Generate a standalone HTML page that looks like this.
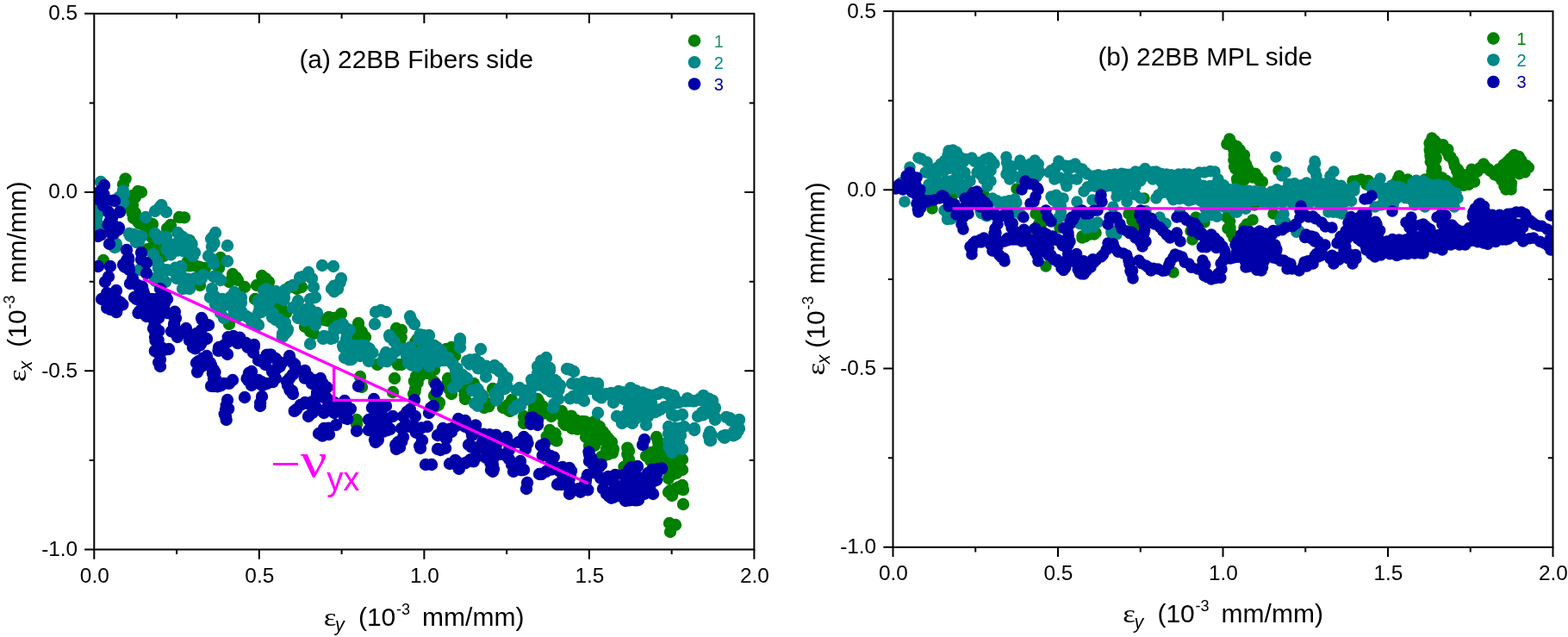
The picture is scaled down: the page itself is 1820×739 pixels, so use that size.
<!DOCTYPE html>
<html><head><meta charset="utf-8"><title>22BB strain plots</title>
<style>
html,body{margin:0;padding:0;background:#fff;}
body{width:1820px;height:739px;overflow:hidden;}
svg{display:block;}
text{font-family:"Liberation Sans",Arial,sans-serif;fill:#000;}
.tk{font-size:24.4px;}
.ttl{font-size:29.8px;}
.lg{font-size:20px;}
.al{font-size:30px;}
.eps{font-family:"Liberation Serif","DejaVu Serif",serif;font-size:30px;}
.sub{font-size:21.5px;font-style:italic;}
.sup{font-size:18px;}
.nu{font-family:"Liberation Serif","DejaVu Serif",serif;font-size:56px;fill:#ff00ff;}
.nus{font-size:38.3px;fill:#ff00ff;}
</style></head><body>
<svg width="1820" height="739" viewBox="0 0 1820 739">
<rect width="1820" height="739" fill="#fff"/>
<defs>
<clipPath id="cl"><rect x="109.30" y="15.80" width="766.10" height="621.70"/></clipPath>
<clipPath id="cr"><rect x="1036.50" y="13.10" width="766.00" height="621.75"/></clipPath>
</defs>
<g clip-path="url(#cl)">
<path d="M145.6 207.4h0M143 214h0M160 222h0M164 223h0M154 227h0M151.7 229.5h0M151 235h0M152.2 237.1h0M152 243h0M153.7 247.4h0M155 253h0M160 257h0M162.1 259.5h0M168 262h0M170.5 260.7h0M177 260h0M156.8 228.8h0M151.6 238.7h0M156.2 247h0M161.7 259.2h0M163.2 256.9h0M174.5 259.2h0M174 269h0M176 275h0M208 252h0M214 252.4h0M198 261h0M194 265h0M174 291h0M177.1 288.7h0M184 289h0M187.8 292.7h0M190 297h0M171.1 289.3h0M178.1 285h0M180.8 287.4h0M220 279h0M218 303h0M222.1 308.1h0M228 309h0M231.3 309.6h0M238 311h0M219.5 308.3h0M256 299h0M256.7 304.2h0M254 311h0M270 318h0M273.9 321.9h0M276 325h0M266 327h0M284 333h0M304 320h0M308.4 323.3h0M312 327h0M298 331h0M336 333h0M344.5 335h0M350 333h0M120 302h0M232 331h0M266 376h0M296 347h0M320 353h0M326 354.7h0M329.6 361.8h0M332 363h0M328 345h0M354 379h0M360 384.4h0M364 387h0M376 371h0M380.7 372.1h0M388 369h0M392 368.5h0M396 364h0M381.7 367.9h0M385.6 372.2h0M394.4 366.7h0M416 375h0M416.4 380h0M420 385h0M412 391h0M419.8 389.7h0M424 391h0M418 437h0M420 449h0M458 439h0M456 455h0M414 487h0M438 423h0M460 381h0M462 423h0M466 383h0M465.7 391.5h0M464 397h0M488 391h0M484.4 393.6h0M482 397h0M504 401h0M524 403h0M518 405h0M525 407.1h0M528 413h0M522 404.7h0M466 423h0M504 429h0M496.3 433.1h0M490 433h0M487 436.9h0M484 441h0M484.7 443.9h0M482 451h0M480 457h0M492.1 430.5h0M483.1 436.3h0M480.9 442.3h0M481.6 454.1h0M520 439h0M504 443h0M518 447h0M521 451h0M524 457h0M504 459h0M507 465.1h0M510 467h0M506 471h0M508.7 469.8h0M550 445h0M538 451h0M539.6 458.3h0M540 463h0M560 459h0M562 465h0M568 469h0M562 473h0M567.2 471.4h0M565.3 471.2h0M572 451h0M594 464h0M589.7 469.8h0M584 473h0M589.8 475.5h0M592 477h0M624 463h0M620.7 467.7h0M620 471h0M623.8 474.2h0M628 475h0M625.1 465.3h0M629.8 471.3h0M608 483h0M652 477h0M646.3 478.9h0M640 483h0M656 485h0M661.8 486h0M668.5 487.4h0M676 489h0M683.6 490.9h0M690 489h0M653.6 483.9h0M663.1 482.6h0M679.3 489.3h0M414 492h0M608 491h0M638 499h0M639.6 503h0M640 509h0M656 493h0M660.8 494h0M664 497h0M670.2 497.9h0M676 495h0M682.5 493.9h0M688 495h0M684.1 500.7h0M680 507h0M684 511.1h0M684 517h0M654.4 490.8h0M672.5 495.7h0M684.5 495.8h0M685.4 496.7h0M687.1 502.6h0M700 501h0M702.7 504.7h0M704 511h0M708.9 515.8h0M712 521h0M709.2 524.5h0M706 527h0M701.9 527.7h0M698 530h0M700.6 504.5h0M700.5 503.4h0M705.9 508.7h0M711 525.4h0M709.6 521.7h0M708.3 524.6h0M699.3 529.9h0M730 523h0M728.3 526.8h0M730 533h0M730 538.7h0M724.5 541.6h0M724 547h0M728.3 519.7h0M762 507h0M764.1 512.9h0M764 519h0M750 529h0M755.3 532.9h0M758 535h0M766.8 531.4h0M772 531h0M779.6 530.8h0M784 535h0M787.2 539.4h0M788 543h0M783 546h0M778 545h0M777.3 549.6h0M776 555h0M763.6 532.4h0M776.8 533.1h0M782.2 538.7h0M785.3 544h0M785.2 548.9h0M780.1 548.1h0M792 563h0M789.5 567h0M784 567h0M778.7 568.7h0M776 571h0M780 575h0M793 568.1h0M787.6 565.1h0M793 585h0M777 607h0M784 609h0M778 617h0M694 511h0M690 517h0M710 513h0M704 521h0M696 495h0M682 501h0M768 527h0M764 537h0M776 537h0M784 527h0M792 533h0M792 545h0M756 525h0M780 551h0M644.6 503h0M634.7 506.3h0M646.2 511.3h0M755.2 534.4h0M765.1 536h0M775 542.6h0M629.7 479.9h0M619.8 476.6h0M182.4 286.6h0M185.2 298h0M176.7 261h0M156.8 246.8h0M154 238.3h0M222.2 303.6h0M233.5 312.2h0" stroke="#008000" stroke-width="14.4" stroke-linecap="round" fill="none"/>
<path d="M117 211h0M144 225h0M138 229h0M140.4 232.7h0M143 235h0M142.9 221.4h0M140.1 237.5h0M112 243h0M109.9 247.8h0M112 253h0M111 256.3h0M113 263h0M112.3 240.3h0M106.6 250.5h0M108.6 254.1h0M187.4 238h0M185.3 240.5h0M180 245h0M193 246h0M169 252h0M150 271h0M155.1 271.9h0M161 274h0M161.2 279.5h0M158 281h0M151.3 273.7h0M151.5 272.2h0M164.3 274.1h0M157.2 277.7h0M135 283h0M133 287h0M180 271h0M184 277h0M188.6 276.5h0M193 275h0M187.3 274.6h0M208 272h0M212 275h0M215.5 277.6h0M220 281h0M206.3 270h0M212.7 277.7h0M217.9 278.4h0M222.6 282.9h0M204 283h0M197.9 287.6h0M196 289h0M200 293h0M206.5 290.5h0M212 291h0M217.9 291.3h0M226 293h0M224 297h0M207 285.9h0M193.3 289.3h0M198.3 295.5h0M216.4 291.6h0M223.5 292.3h0M250 270h0M247 275h0M248.6 282.1h0M246 286h0M245.1 277.1h0M264 285h0M242 297h0M246.2 300.8h0M248 306h0M264 303h0M178 295h0M179.8 302.4h0M184 307h0M189.1 312.6h0M190 315h0M186.3 320.4h0M180 323h0M187.1 323.8h0M192 327h0M182.3 302.8h0M183.8 310.9h0M194.1 313.3h0M180.5 325.9h0M188.1 327.4h0M162 313h0M210 309h0M207.5 311.9h0M202 315h0M208.7 320.3h0M214 323h0M218.2 323.7h0M226 323h0M231.8 324.2h0M234 323h0M209.3 315.6h0M203.4 310.8h0M205.1 322.9h0M220.1 325.7h0M236.1 319h0M212 335h0M216.7 334.3h0M220 335h0M248 321h0M252.2 321.4h0M256 325h0M246 335h0M272 339h0M358 316h0M350.9 321.1h0M348 322h0M362 323h0M340 331h0M364 333h0M374 308h0M387 309h0M396 323h0M394.7 327.6h0M392 332h0M390.4 333.2h0M385 335h0M392 335.1h0M387.8 331.6h0M387.9 338.2h0M306 337h0M312.4 337.3h0M320 338h0M325.4 340.3h0M330 339h0M309 335.3h0M322.7 341.3h0M330.9 336.3h0M244 345h0M249.1 343.8h0M258.3 347h0M267.6 344.5h0M271.7 344.7h0M280 345h0M250 353h0M255 352.9h0M260 349h0M263.6 353.3h0M270 355h0M276 354.4h0M280 351h0M258.6 351.9h0M271.3 358.8h0M278.4 355.4h0M256 363h0M260 369h0M272 363h0M275.2 364.1h0M280 361h0M284.7 366.1h0M286 367h0M288 368.2h0M292 373h0M294.2 375h0M300 377h0M275.6 367.4h0M295.9 372.4h0M300 363h0M303.4 362h0M308 359h0M310.7 359.9h0M316 363h0M316.9 365.5h0M320 371h0M325.7 374.3h0M328 377h0M330.2 379h0M334 382h0M333.2 384.5h0M328 387h0M301.4 359.4h0M303.9 359.7h0M316.1 368.1h0M323.6 370.4h0M330.3 374.5h0M331 374.7h0M330.9 379.9h0M331.3 386.6h0M327.9 390.7h0M300 349h0M305.7 347.7h0M310 349h0M312.9 346.2h0M320 345h0M325.8 343.6h0M330 345h0M301.2 352.9h0M312.6 351h0M327.8 346.9h0M329.4 348h0M340 357h0M345 352.2h0M346 349h0M356 359h0M351.3 363.4h0M346 369h0M352.6 369.6h0M360 367h0M366.2 364.4h0M368 363h0M365.7 371h0M366 377h0M360.3 359.2h0M352.7 360.4h0M354 371.8h0M363.3 368.8h0M360 347h0M366 345h0M360 399h0M376 390h0M378.4 390.5h0M384 393h0M386.1 388.9h0M388 381h0M391.3 378.5h0M398 376h0M403.3 381.6h0M406 383h0M402.7 386.4h0M402 393h0M401.9 399.1h0M398 401h0M401.9 401h0M406 405h0M412 401h0M419.9 400.5h0M424 401h0M428.8 404.5h0M430 407h0M425.4 408.5h0M418 413h0M375 392.9h0M386.7 392.1h0M393.4 380.5h0M402.3 381.5h0M404.1 384h0M398.7 402.8h0M404.2 402.1h0M415.7 401.5h0M420.2 404.5h0M430.3 407.6h0M432.3 409.4h0M422.1 409.8h0M416.3 411h0M400 415h0M405 417.2h0M408 417h0M428 419h0M436 362h0M442.1 360h0M448 362h0M435 376h0M452 389h0M448 409h0M446 413.5h0M444 419h0M476 367h0M477.5 371.5h0M481 376h0M498 389h0M491.2 389h0M486 393h0M487.6 394.5h0M492 399h0M497.9 401.8h0M500 403h0M507.7 403.5h0M512 407h0M487.5 388.2h0M488.5 390.4h0M501.7 401.6h0M500.9 400.1h0M468 405h0M472.4 409.2h0M478 411h0M482.7 412.6h0M488 417h0M494.1 417h0M498 421h0M505.4 417.9h0M510 417h0M515.6 418.1h0M520 415h0M480.6 411h0M480.2 410.3h0M498.5 424.8h0M508.6 418h0M508.2 419.3h0M484 425h0M477.7 423.5h0M474 421h0M534 393h0M533.9 396.4h0M534 403h0M558 405h0M542 419h0M549.9 418.4h0M554 420h0M556.5 420.7h0M562 425h0M568.6 426.1h0M574 424h0M578.2 427.1h0M580 431h0M582 431.9h0M586 437h0M585.6 441.3h0M584 445h0M586 451h0M579.3 454.6h0M574 457h0M578 461h0M545.7 417.5h0M552 416.9h0M556.7 423.3h0M564.4 424.8h0M575.2 427.5h0M584.9 439.9h0M588.8 438.7h0M588.2 447.7h0M579.2 451.2h0M576.3 458.8h0M576 464.4h0M526 423h0M528.9 429.5h0M530 433h0M536.9 435h0M542 439h0M537.2 439.7h0M532 441h0M530.3 445.6h0M526 450h0M523.2 419.6h0M530.7 427.8h0M530.3 437h0M539.5 437.6h0M535.1 438.9h0M564 437h0M548 453h0M555.1 454.9h0M558 457h0M556 463.4h0M551 468h0M554.5 451.3h0M558.9 460.6h0M558.4 461.9h0M554.4 470.7h0M634 415h0M628.3 418.4h0M624 425h0M628.9 424h0M638 427h0M634.2 429.6h0M629.5 432h0M624 433h0M626.1 436.4h0M632 439h0M626.7 442.1h0M624.1 444.1h0M618 444h0M621.1 447.1h0M628 447h0M635.2 447h0M636.9 441.7h0M644 441h0M645.3 442h0M650 447h0M648.5 452.4h0M644 455h0M639.6 454.4h0M634 451h0M630.5 420h0M627.5 427h0M637.9 430.1h0M627.6 436h0M623.9 443.8h0M617 440.6h0M622.8 445.1h0M638.1 447h0M641.8 442.2h0M645.3 452.5h0M642.5 453.4h0M632.9 447.7h0M648 463h0M643.3 468.6h0M642 473h0M603 450h0M607.7 454.8h0M616 457h0M612.9 462.3h0M608 465h0M604 471h0M600.6 472.4h0M596 475h0M599.6 452.6h0M609.6 453.1h0M615.6 461.3h0M610.2 463h0M600.1 470.2h0M658 428h0M661.3 428.7h0M666 431h0M664 445h0M669.5 445.5h0M678 443h0M684 444.7h0M687.2 444.1h0M694 445h0M691.2 448.3h0M686 451h0M678.4 452.8h0M674 455h0M671.2 456.3h0M665 460h0M670.1 461.6h0M678 465h0M679.7 445.5h0M681.3 444.3h0M688.9 448.2h0M693.8 447.7h0M690.1 450.6h0M675.3 458.6h0M672.1 459.5h0M661.7 462.4h0M694 459h0M699.6 457.8h0M704 457h0M709.4 456h0M718 454h0M722.9 455.1h0M730.5 453.7h0M734 454h0M740.3 456.4h0M745.7 455.5h0M752 458h0M758.3 458.7h0M763.9 456.9h0M768 455h0M776.6 457.8h0M782 459h0M698.1 461.3h0M700.4 459h0M719.9 456.6h0M732 450.1h0M738 453.1h0M741.2 455.8h0M749.3 457.2h0M773.4 456.2h0M724 463h0M729.4 464.3h0M736.1 464.4h0M740 465h0M744.9 467.6h0M749.4 467.1h0M756 467h0M724.2 460.3h0M739 465.5h0M743.3 465.3h0M743.9 464.6h0M750 471.1h0M712 467h0M730 473h0M737.1 472.8h0M744 475h0M750.7 474.5h0M753.4 473.4h0M760 475h0M766.6 475h0M771.3 472.2h0M776 471h0M782.3 467.8h0M788 467h0M796 465.4h0M800 465h0M805.9 465.4h0M812.1 462.9h0M816 462h0M819.1 464.7h0M824 467h0M731.6 470.2h0M741.9 477.1h0M751.6 476.8h0M760.1 478.1h0M763.2 476.7h0M779.8 469.2h0M784.3 464h0M797.9 462.1h0M804.4 465.3h0M814.3 464.5h0M816.5 458.9h0M822.5 462.4h0M826.9 464.7h0M694 479h0M716 483h0M723.2 484.4h0M729.7 485.6h0M734 485h0M741.5 483h0M746.8 483.8h0M752 483h0M725.9 482h0M730 488.4h0M737.2 486.2h0M738 483.2h0M780 481h0M783.8 482.5h0M792 481h0M810 483h0M815.9 481.3h0M822 479h0M722 491h0M734 491h0M750 493h0M776 495h0M782.1 496.8h0M788 497h0M784.5 501.4h0M782 507h0M781.4 511.3h0M780 517h0M788 519.8h0M792 521h0M779.7 499.2h0M776.5 518.4h0M787.9 520.2h0M780 525h0M806 499h0M824 501h0M822.6 505.2h0M824 511h0M817 462h0M823.6 465.9h0M826 467h0M830 473h0M829.1 475.3h0M828 481h0M830 487h0M829.7 483.6h0M820 477h0M815 478.6h0M810 483h0M806 497h0M843 484h0M848.1 487.6h0M856 490h0M858 497h0M856.5 499.9h0M854 504h0M851.2 505.3h0M842 504.9h0M839 506h0M847.2 485.2h0M858 486.9h0M852.8 499.9h0M851.8 501.2h0M841 507.9h0M824 501h0M825.6 504.3h0M825 511h0M476 403h0M490 407h0M482 415h0M504 413h0M494 411h0M514 413h0M472 413h0M790 505h0M776 503h0M788 513h0M784 521h0M794 495h0M776 511h0M452.6 391.1h0M457.6 396h0M454.3 414.2h0M449.3 419.2h0M459.2 407.6h0M545.1 422.5h0M555 427.4h0M114.2 246.8h0M114.2 261h0M151.1 272.4h0M162.5 275.2h0M134.1 286.6h0M142.6 226.9h0" stroke="#008787" stroke-width="14.4" stroke-linecap="round" fill="none"/>
<path d="M121 215h0M117.9 220h0M115 223h0M117.7 225.2h0M120 229h0M114 231h0M115 224.1h0M120.5 225.5h0M133 233h0M126 246h0M139 246h0M130 253h0M130.1 258.8h0M128 261h0M132.8 263h0M138 264h0M135 267.6h0M132 271h0M126.8 258.1h0M127.9 269.4h0M114 274h0M127 283h0M147 290h0M164 293h0M149 299h0M147.5 301.4h0M143 307h0M144.8 309.7h0M150 313h0M149.2 301.6h0M149.2 309.3h0M170 305h0M164 301h0M170 317h0M154 323h0M155.4 328.7h0M160 331h0M165.1 332.8h0M166 337h0M151 329h0M161.8 334.2h0M167 340h0M114 309h0M128 309h0M126 321h0M122 327h0M135 337h0M124 340h0M186 335h0M118 347h0M125 343.9h0M130 345h0M135.2 347.7h0M140 351h0M135.9 353.8h0M136 358h0M132.5 358.6h0M128 359h0M124.1 357.1h0M124 351h0M129.7 347.6h0M142.3 353.4h0M135.1 362.1h0M127.6 352.4h0M156 345h0M160.7 345.1h0M166 349h0M165.9 355.6h0M162 361h0M167.3 362.2h0M170 367h0M176.6 363.1h0M180 363h0M186.6 358.8h0M190 355h0M191.3 351.2h0M194 347h0M189.9 346h0M180.4 347.1h0M176 347h0M158.2 346.8h0M161.6 348.1h0M166.2 345.9h0M160.5 363.1h0M171.3 362.6h0M172.3 363.8h0M181.4 359.9h0M188.3 356h0M191.8 342.6h0M174.5 349.1h0M184 369h0M179.4 373.1h0M178 381h0M180.1 384.9h0M180 391h0M180.5 395.2h0M184 403h0M191.5 405.6h0M196 405h0M179.5 376.2h0M179.9 383.8h0M184.4 383.9h0M183.6 394.5h0M187.3 403h0M188.6 405.6h0M184 403h0M182.8 409h0M186 417h0M184.2 420.6h0M186 425h0M187.1 403.4h0M179.8 407.1h0M194 363h0M200.7 365.5h0M204 369h0M202.2 375.1h0M202 377h0M202.5 385h0M206 391h0M202.9 361.8h0M199 384.5h0M216 381h0M219.3 389.4h0M220 395h0M224.4 392.7h0M228 387h0M233.8 382.9h0M238 377h0M234.8 370.9h0M234 369h0M214.3 383.1h0M242.1 377.1h0M224 403h0M228 403h0M232.2 400.4h0M234.1 397.4h0M240 393h0M226.7 404.4h0M231.9 395.9h0M231.5 399.7h0M254 403h0M260.2 400.5h0M264 397h0M268.1 391.6h0M271 390h0M273.9 392.4h0M280 397h0M285.1 397.6h0M288 400h0M295 400h0M294.8 402.4h0M294 409h0M253.5 406.8h0M264.7 391.3h0M274.2 392.9h0M278.3 391.8h0M276 398.1h0M287.7 402.9h0M292.4 401h0M264 411h0M240 413h0M236 415.4h0M228 421h0M230.4 425h0M230 429h0M230.8 418.9h0M233.9 425.1h0M229.1 431.6h0M244 421h0M245.3 424.2h0M248 429h0M249.5 431.8h0M248 439h0M249.1 445h0M248 448h0M252.3 448.4h0M260 445h0M265.9 444.8h0M270 441h0M241.7 423.4h0M246.8 433.1h0M251.3 441.5h0M251.9 443.8h0M245.1 447.8h0M256.4 447.2h0M300 418h0M306.9 417.2h0M310 416h0M316 414h0M320 416h0M323 419.3h0M324 423h0M321.1 427.6h0M316 431h0M304.1 419.3h0M303.8 417.8h0M309.7 411.6h0M314.2 411.4h0M324.4 421.7h0M326.9 421.1h0M324.8 425.1h0M317.8 433.2h0M308 423h0M292 431h0M288 437h0M288.2 441.3h0M292 447h0M294.2 442.9h0M300 441h0M303.9 443.3h0M310 445h0M316.7 443.1h0M320 439h0M289 432.8h0M286.6 439.2h0M290.9 440.7h0M303.5 446.3h0M305.8 446.5h0M336 413h0M335.9 414.9h0M340 421h0M342.9 426.7h0M344 429h0M339.9 434.4h0M336 439h0M332.8 442.5h0M334 447h0M338.9 453.4h0M340 457h0M342.2 422.8h0M336.4 452.6h0M354 430h0M354.8 435.3h0M358 437h0M360.6 440.1h0M362 445h0M365.4 440.9h0M372 439h0M374.6 444.9h0M376 449h0M370.3 450.1h0M368 455h0M372.1 458.4h0M376 461h0M354.6 433.7h0M353.7 438.6h0M365.6 443.9h0M379.5 449.5h0M367.8 458.8h0M379.1 461.7h0M264 464h0M262.7 470.3h0M262 475h0M260.7 480.3h0M262 483h0M265.1 474.4h0M262.7 487h0M284 461h0M304 460h0M302.1 467.5h0M302 471h0M344 475h0M349 469.6h0M354 467h0M358.8 468.6h0M366 471h0M362.7 479h0M358 483h0M341.7 476.8h0M356.5 467.8h0M362.2 466.1h0M376 479h0M379.2 473.6h0M385.9 472.1h0M388 467h0M388 479h0M400 465h0M399.9 470.7h0M404 475h0M401.5 479.4h0M400 485h0M401.2 467.2h0M397.3 474.3h0M406.8 474.4h0M403.3 475.7h0M403.3 486h0M416 448h0M434 463h0M435.4 470.8h0M438 475h0M441.6 472.4h0M448 471h0M431.9 473h0M444.2 473h0M428 487h0M432.9 488.1h0M440 487h0M447.1 485h0M449.7 486.3h0M456 483h0M432.3 485h0M444 487.1h0M506 446h0M508.6 449.9h0M507 454h0M481 464h0M503 471h0M500.1 473.2h0M498 479h0M476 475h0M472.6 477.7h0M468 483h0M482 483h0M616 485h0M618.5 484.4h0M624 488h0M532 486h0M533.8 487.8h0M540 488h0M370 503h0M374.3 505.6h0M382 504h0M376 497h0M381.2 496.6h0M390 493h0M414 500h0M428 499h0M432.4 495.9h0M440 497h0M446 496.9h0M450 499h0M445 500.6h0M438 505h0M435 510.2h0M436 513h0M443.3 494h0M452.7 497.8h0M438.8 510.6h0M460 521h0M459.2 516.2h0M462 513h0M466 497h0M472 494.5h0M476 495h0M482.6 496.9h0M486 499h0M489.1 496.4h0M496 495h0M470.8 492h0M480.3 494h0M482.9 501.7h0M468 507h0M466.3 512.1h0M464 519h0M490 511h0M487.1 517.6h0M488 520h0M508 505h0M511.9 502.4h0M514 497h0M518.3 499.5h0M524 501h0M528 495h0M514.4 501.3h0M522.5 497.6h0M518 509h0M540 495h0M546.4 495h0M550 497h0M546.8 500h0M548 505h0M536.5 492.9h0M552.1 493.4h0M508 521h0M511.5 522h0M517 520h0M494 539h0M501 539h0M522 538h0M528.4 538.3h0M532 537h0M532 541h0M539.8 537.3h0M544 535h0M546.2 533.2h0M552 531h0M528.4 533.9h0M529 534.6h0M532.8 543.9h0M549.7 535.4h0M544 516h0M547.8 518.9h0M554 521h0M558.7 518.7h0M560 513h0M562.1 508.9h0M564 505h0M568.4 504.1h0M572 506h0M572.6 508.1h0M576 513h0M572.9 516.4h0M568 521h0M566.3 525.6h0M564 531h0M568.1 533.5h0M572 539h0M570 545.2h0M572 547h0M547 518.3h0M551.4 519.2h0M564.4 513.9h0M561.2 503.8h0M575.8 504.7h0M575.7 517.1h0M570.3 522.3h0M572.2 532h0M569.3 537.1h0M572.9 544.4h0M580 527h0M588 507h0M590.6 514h0M592 517h0M590.7 522.5h0M588 529h0M590.8 532.5h0M594 539h0M597 545.2h0M596 547h0M598.8 542h0M604 541h0M608 545h0M585.4 510.5h0M591.6 518.7h0M596.5 542.2h0M595.4 539.8h0M602.6 543.7h0M605.2 545.3h0M608 507h0M612 513h0M609.8 515.4h0M610 521h0M611.4 510.2h0M612.5 514.1h0M602 513h0M604 535h0M612 560h0M611 567h0M628 517h0M631.6 522.7h0M632 525h0M633.9 526.8h0M639 529h0M640 535h0M631.8 515.2h0M629.8 528.5h0M632 524.8h0M642.7 530.4h0M626 550h0M628.4 550.1h0M634 547h0M640 544.6h0M648 543h0M653 542h0M661 543h0M663 546.3h0M662 551h0M657.5 554h0M656 557h0M650.7 561.3h0M647 562h0M628.6 549.6h0M636.9 545h0M649 546.1h0M660.9 555.2h0M657.1 550.9h0M651.8 558.3h0M651.2 562.1h0M661 563h0M661.1 566.6h0M661 573h0M672 567h0M675.7 568.8h0M680 567h0M678.8 562.3h0M680 557h0M682 551h0M673.7 570.7h0M682.3 568.3h0M679.6 559.9h0M684 527h0M684.9 532.4h0M684 535h0M687.4 537.7h0M690 543h0M692.1 542h0M698 539h0M683.5 524.4h0M686.3 531.5h0M691.7 538.1h0M692.1 540.8h0M693.7 539.2h0M695.5 541.7h0M692 549h0M748 510h0M746 516h0M700 555h0M706 553h0M706.8 556.1h0M712 559h0M697.3 554.7h0M700 567h0M704 573h0M707.2 575.9h0M712 577h0M715.5 573.1h0M720 567h0M721.1 564.6h0M726 559h0M730 552h0M730 545h0M735.1 543.1h0M740 541h0M706.9 572.4h0M709.6 577.7h0M718.7 575.3h0M723.7 567.4h0M732.7 542.1h0M737.6 545.6h0M732 551h0M752 549h0M757 544.8h0M764 544h0M762.6 548.9h0M762 557h0M756.4 559.6h0M750 559h0M745.4 563.3h0M744 567h0M739.1 567.5h0M732 571h0M730.4 577.9h0M726 581h0M730.5 580.3h0M737.5 580.4h0M741 580h0M755.8 547.5h0M757.2 548h0M768.1 543.5h0M745.6 558.5h0M740.7 568.8h0M736.5 567h0M729.5 570.9h0M734.4 577.2h0M758 573h0M722 575h0M616 492h0M621.7 490.5h0M624 493h0M714 567h0M734 561h0M744 555h0M754 565h0M740 575h0M714 551h0M724 551h0M756 557h0M710 571h0M732 579h0M748 573h0M117 226.9h0M131.2 232.6h0M125.6 261h0M136.9 266.7h0M117 272.4h0M128.4 249.7h0M119.9 238.3h0" stroke="#0000a8" stroke-width="14.4" stroke-linecap="round" fill="none"/>
<path d="M166 323.5L683 561M387.6 425V464.3H474" stroke="#ff00ff" stroke-width="3.3" fill="none"/>
</g>
<rect x="109.30" y="15.80" width="766.10" height="621.70" fill="none" stroke="#000" stroke-width="2"/>
<path d="M109.30 637.50v11.2M205.06 637.50v5.6M205.06 15.80v5.6M300.82 637.50v11.2M300.82 15.80v11.2M396.59 637.50v5.6M396.59 15.80v5.6M492.35 637.50v11.2M492.35 15.80v11.2M588.11 637.50v5.6M588.11 15.80v5.6M683.88 637.50v11.2M683.88 15.80v11.2M779.64 637.50v5.6M779.64 15.80v5.6M875.40 637.50v11.2M109.30 15.80h-11.2M109.30 119.42h-5.6M875.40 119.42h-5.6M109.30 223.03h-11.2M875.40 223.03h-11.2M109.30 326.65h-5.6M875.40 326.65h-5.6M109.30 430.27h-11.2M875.40 430.27h-11.2M109.30 533.88h-5.6M875.40 533.88h-5.6M109.30 637.50h-11.2" stroke="#000" stroke-width="2" fill="none"/>
<text x="109.8" y="675.9" text-anchor="middle" class="tk">0.0</text>
<text x="301.3" y="675.9" text-anchor="middle" class="tk">0.5</text>
<text x="492.9" y="675.9" text-anchor="middle" class="tk">1.0</text>
<text x="684.4" y="675.9" text-anchor="middle" class="tk">1.5</text>
<text x="875.9" y="675.9" text-anchor="middle" class="tk">2.0</text>
<text x="90.2" y="23.2" text-anchor="end" class="tk">0.5</text>
<text x="90.2" y="230.4" text-anchor="end" class="tk">0.0</text>
<text x="90.2" y="437.7" text-anchor="end" class="tk">-0.5</text>
<text x="90.2" y="644.9" text-anchor="end" class="tk">-1.0</text>
<text x="347.4" y="78.9" class="ttl">(a) 22BB Fibers side</text>
<circle cx="806.0" cy="47.2" r="7.3" fill="#008000"/>
<text x="828.8" y="54.5" class="lg" style="fill:#2e8b6e">1</text>
<circle cx="806.0" cy="72.3" r="7.3" fill="#008787"/>
<text x="828.8" y="79.6" class="lg" style="fill:#008b8b">2</text>
<circle cx="806.0" cy="97.5" r="7.3" fill="#0000a8"/>
<text x="828.8" y="104.8" class="lg" style="fill:#0000a8">3</text>
<text class="nu" transform="translate(313.7 557) scale(1.115 1)">−</text><text class="nu" transform="translate(348.8 552.5) scale(1.22 1)">ν</text><text class="nus" x="379.2" y="569.3">yx</text>
<g transform="translate(376.3 725.6)"><text class="eps" transform="translate(-0.6 0) scale(1.16 1)">ε</text><text class="sub" x="12.8" y="6.8">y</text><text class="al" x="39.6" y="0">(10</text><text class="sup" x="83.8" y="-12.9">-3</text><text class="al" x="113.8" y="0">mm/mm)</text></g>
<g transform="translate(29.7 442.3) rotate(-90)"><text class="eps" transform="translate(-0.6 0) scale(1.16 1)">ε</text><text class="sub" x="12.8" y="6.8">x</text><text class="al" x="39.6" y="0">(10</text><text class="sup" x="83.8" y="-12.9">-3</text><text class="al" x="113.8" y="0">mm/mm)</text></g>
<g clip-path="url(#cr)">
<path d="M1180 219h0M1082 242h0M1106 226h0M1142 226h0M1202 248h0M1206.4 251.2h0M1210 258h0M1205.6 260.1h0M1202 266h0M1230 264h0M1256 274h0M1259.6 274.8h0M1267.6 269.6h0M1272 270h0M1310 248h0M1313.5 251.5h0M1314 256h0M1318 262h0M1313.5 247.1h0M1314.4 253.4h0M1328 230h0M1384 278h0M1388 252h0M1382 268h0M1214 309h0M1362 316h0M1200 266h0M1256 276h0M1264.4 272.3h0M1270 272h0M1384 278h0M1427 161h0M1427.5 164.4h0M1431 170h0M1431.8 173.4h0M1436 178h0M1440 184h0M1438.3 190.1h0M1434 196h0M1423.9 167.1h0M1432.6 193.1h0M1448 198h0M1445.1 200.8h0M1442 206h0M1447.4 205.3h0M1454 206h0M1457.5 205.9h0M1462 210h0M1443.7 209.5h0M1436 210h0M1484 198h0M1456 238h0M1454 255h0M1447.2 260.1h0M1444 264h0M1424 252h0M1427.6 256.7h0M1428 264h0M1429.7 271.3h0M1432 276h0M1425 265.1h0M1478 248h0M1398 258h0M1570 210h0M1574.6 209.7h0M1580 208h0M1584.4 210.4h0M1586 214h0M1588.2 209.6h0M1624 204h0M1622.7 207.2h0M1620 212h0M1634 208h0M1662 160h0M1659.1 166.1h0M1660 170h0M1659.5 175.1h0M1660 180h0M1661 186.8h0M1662 190h0M1664.1 192.9h0M1664 200h0M1662 160h0M1667.1 165.4h0M1672 168h0M1675.7 172.1h0M1678 174h0M1680.6 176h0M1684 182h0M1686.8 186.2h0M1688 190h0M1692.2 196.2h0M1694 200h0M1695.3 201.8h0M1700 206h0M1703.1 205.4h0M1710 202h0M1711.2 197.2h0M1716 196h0M1720.1 193.3h0M1722 190h0M1724 194.8h0M1730 198h0M1734.9 200.9h0M1738 204h0M1740 199.8h0M1746 194h0M1749.6 192.4h0M1754 190h0M1757.7 186.4h0M1757 180h0M1665.3 168.5h0M1675 167.8h0M1692.6 204h0M1708.1 196.4h0M1744.6 197.3h0M1706 212h0M1738 204h0M1743.3 209.1h0M1746 216h0M1750.9 219.3h0M1754 220h0M1674 206h0M1665.4 206.4h0M1661.3 205.3h0M1654 208h0M1758 180h0M1763.2 181.6h0M1764 186h0M1767.7 190.8h0M1772 194h0M1770 200h0M1768.9 197.3h0M1752 206h0M1751.9 213h0M1754 216h0M1748 220h0M1760 196h0M1665.3 163h0M1665.8 167.6h0M1663.4 175.1h0M1665.3 179.5h0M1667 184.8h0M1664.6 190.1h0M1666.9 196h0M1666 203h0M1668.6 205.9h0M1664.3 166.9h0M1667.9 169.3h0M1659.3 174.3h0M1667.1 183.1h0M1667.1 200.5h0M1665.7 207h0M1673.5 171.3h0M1679.4 176.1h0M1681.8 181.2h0M1687.1 187.4h0M1688.4 192.7h0M1690.8 198.4h0M1695 204.3h0M1699.3 208.6h0M1701.6 210.9h0M1704.9 209.6h0M1711.5 210.9h0M1680.7 173.2h0M1696.9 201.8h0M1699.2 205.4h0M1698 212.9h0M1678.5 209.2h0M1682.9 212.1h0M1691.7 212.5h0M1698.8 215.1h0M1704.9 214.2h0M1714.8 199.3h0M1717.5 194.7h0M1721.4 191.1h0M1724.1 193h0M1728 196h0M1729.6 198.1h0M1734.6 202.6h0M1740.6 205.6h0M1742.9 209.2h0M1747.6 215.1h0M1751.1 217.5h0M1739.6 196h0M1745.2 191.1h0M1747.8 189.4h0M1753 183.8h0M1757.7 179.5h0M1763.3 182.2h0M1766 186.1h0M1771.6 191.8h0M1774.3 194.4h0M1772.6 195.3h0M1767.6 199.3h0M1764.6 199.6h0M1757.7 197.7h0M1751.1 196h0M1750.3 186.8h0M1763.4 201.8h0M1751.1 202.6h0M1750.9 205.7h0M1754.4 212.5h0M1660.3 171.3h0M1661.4 175.5h0M1660.2 181.8h0M1660.3 187.8h0M1662.5 195.6h0M1662 199.3h0M1427.3 161.4h0M1430.6 167.1h0M1435.6 169.6h0M1439.2 173.7h0M1442.2 181.2h0M1444.8 187.6h0M1446.7 191h0M1448.8 196h0M1452.3 201h0M1457.2 201.4h0M1460.3 205.9h0M1465.3 210.9h0M1444.4 179.9h0M1453.1 200.7h0M1432.3 179.5h0M1431.9 185.6h0M1433.9 189.4h0M1445.5 202.6h0M1441.8 203.9h0M1435.6 207.6h0" stroke="#008000" stroke-width="13.6" stroke-linecap="round" fill="none"/>
<path d="M1066 183h0M1069.2 184.1h0M1076 188h0M1056 194h0M1084 196h0M1088.1 194.4h0M1092 190h0M1096.5 186.3h0M1100 180h0M1101.1 174.9h0M1106 174h0M1110.2 176.2h0M1112 180h0M1115.9 183.4h0M1118 188h0M1121.5 184.5h0M1128 183h0M1131.2 187.3h0M1138 188h0M1143.4 184.8h0M1148 183h0M1150.8 186h0M1154 190h0M1150 195.7h0M1150 198h0M1146.4 200h0M1142 198h0M1141.7 203.5h0M1142 208h0M1144.9 207h0M1150 210h0M1146 216h0M1148.2 198h0M1138.5 202.8h0M1147.9 209.9h0M1134 200h0M1074 200h0M1078.6 201h0M1086 204h0M1089.8 199h0M1096 198h0M1101.4 195.3h0M1103.8 194.9h0M1110 192h0M1113.2 195h0M1120 200h0M1116.5 201.4h0M1110 206h0M1103.1 210.1h0M1098 209.8h0M1090 214h0M1083.4 215h0M1078 214h0M1109.2 189.1h0M1079.8 214.7h0M1116 214h0M1111.9 215.5h0M1106 218.3h0M1100 220h0M1092.5 220.8h0M1084.8 221.2h0M1080 224h0M1097 218.8h0M1078.9 226.7h0M1116 224h0M1117.7 220.3h0M1121.7 214.2h0M1126 210h0M1050 210h0M1046 212h0M1050 234h0M1096 244h0M1099.8 249.2h0M1100 252h0M1104 254h0M1099.6 254.5h0M1138 244h0M1141.7 246.3h0M1144 250h0M1168 182h0M1168.6 188.7h0M1170 194h0M1169.9 196.9h0M1168 202h0M1172 208h0M1173.1 199.8h0M1184 186h0M1184 189h0M1188 196h0M1190.5 191.7h0M1196 190h0M1199.1 189.5h0M1204 190h0M1203 193.2h0M1206 198h0M1201.6 198.6h0M1196 202h0M1192.5 203.3h0M1186 204h0M1201.2 186h0M1205.2 190.2h0M1206.1 200.7h0M1218 200h0M1220.2 197.5h0M1225.5 194.4h0M1230 190h0M1236.4 192h0M1240 196h0M1242.2 195h0M1248 190h0M1251.7 194.9h0M1256 196h0M1259.8 200h0M1262 202h0M1228.9 186.8h0M1242.4 192.4h0M1230 206h0M1236.6 207.2h0M1242 208h0M1238.9 210.1h0M1238 216h0M1237 212.3h0M1224 208h0M1250 208h0M1270 204h0M1274.8 202.9h0M1282 204h0M1288.1 202.8h0M1294 202h0M1301.9 201.3h0M1306 202h0M1311.1 202.2h0M1318 199h0M1322.4 199.8h0M1330 200h0M1335.3 200.9h0M1342 199h0M1348.2 201.6h0M1354 202h0M1359.5 202.7h0M1368 202h0M1374.4 201.8h0M1380 202h0M1387.2 202.5h0M1392 200h0M1269.2 207.1h0M1281.4 206.8h0M1300.4 204.4h0M1313.4 203.3h0M1329.1 195.6h0M1338.6 199.2h0M1345.8 201h0M1258 222h0M1262.4 216.9h0M1270 216h0M1276.2 218.5h0M1280 218h0M1286.1 215.6h0M1294 216h0M1296 220h0M1277.1 214.4h0M1295.4 213.2h0M1308 214h0M1313.2 214.4h0M1318 216h0M1323.5 209.9h0M1326 206h0M1304.6 212.5h0M1268 232h0M1250 234h0M1234 230h0M1227 229h0M1220 228h0M1222.5 232.1h0M1228 238h0M1225.9 226.4h0M1231.3 238.8h0M1308 234h0M1324 230h0M1342 230h0M1344.6 226h0M1350 220h0M1352.8 219.5h0M1360 216h0M1366.6 219.3h0M1370 220h0M1374.7 217h0M1380 216h0M1385.7 218.1h0M1390 220h0M1369 223.2h0M1388.4 219.7h0M1360 228h0M1369.1 230.8h0M1374 230h0M1381.6 232.1h0M1386 230h0M1379.9 228.8h0M1360 208h0M1367.3 211h0M1374 210h0M1380.9 210.6h0M1388 210h0M1382.4 214.2h0M1152 230h0M1157.2 232.7h0M1166 234h0M1171.4 232.9h0M1178 231h0M1179.8 234.9h0M1170 240h0M1230 252h0M1256 260h0M1261.2 259.3h0M1266 262h0M1271.6 258.9h0M1274 258h0M1253.1 259.4h0M1290 268h0M1296 272h0M1292 240h0M1346 252h0M1347.3 256.1h0M1352 260h0M1290 270h0M1481 182h0M1526 187h0M1526.6 189.6h0M1524 196h0M1526.4 198.6h0M1528 204h0M1548 199h0M1544 204h0M1492 200h0M1488 204h0M1410 199h0M1404.8 198.6h0M1398 200h0M1414 208h0M1396.8 215.2h0M1404.6 215.5h0M1412.8 212.2h0M1420.4 214.9h0M1495.8 213.5h0M1502.6 212.8h0M1511.6 214.5h0M1516.6 212h0M1526.8 212h0M1535.3 213h0M1540.9 214.1h0M1549.3 214h0M1556.6 215.4h0M1393.3 222h0M1400.6 221.8h0M1411.9 220.2h0M1416.1 220.1h0M1426.6 219.5h0M1434.2 219h0M1441.9 221.5h0M1449.7 221.3h0M1456.5 221.9h0M1464.5 222.3h0M1476 222.4h0M1482.1 219.8h0M1489.4 221.6h0M1498 222.3h0M1504.4 220.5h0M1515.5 221h0M1522.2 219h0M1528.6 219.7h0M1539.6 222h0M1544.9 222.3h0M1552.1 221h0M1563.9 220h0M1571.8 221.2h0M1396.2 226.7h0M1405.8 226.4h0M1415 226.1h0M1423.2 226.6h0M1428.3 227.6h0M1436.4 227.6h0M1447.2 227.8h0M1453.8 225.5h0M1462.1 225.8h0M1470.6 225.9h0M1478.3 226.8h0M1485.5 228.1h0M1492.7 226.1h0M1503.8 226.7h0M1511.4 228.9h0M1517.9 226h0M1524.4 228.9h0M1532.5 227.4h0M1542.1 225.9h0M1549.9 226.1h0M1558.1 227.4h0M1565.5 226.2h0M1393.6 233h0M1400.5 233.2h0M1411.5 234.2h0M1419.6 232.3h0M1427.8 234.2h0M1435.2 234.5h0M1442.8 233.1h0M1451 232.8h0M1457.1 232.3h0M1465.6 234.3h0M1473.2 235.8h0M1480.3 234.5h0M1488.9 234.6h0M1499.1 235h0M1504.2 233.2h0M1514.4 236.1h0M1520.2 234.7h0M1530.8 235.5h0M1537.4 235.4h0M1545.8 235.9h0M1552 236h0M1561.6 233.8h0M1568.4 233.2h0M1398.9 241.7h0M1404.6 240.4h0M1412.6 239.8h0M1420.9 240.3h0M1431.9 243h0M1439.2 240.9h0M1446 242.1h0M1591.6 217.8h0M1598.5 215.6h0M1606.5 218.2h0M1615.1 215.2h0M1622.9 216.2h0M1628.6 218.7h0M1638.7 217.8h0M1644.5 218.1h0M1655.7 218.4h0M1663 218.1h0M1671.2 217.2h0M1677.7 218.1h0M1603.1 225.1h0M1609.2 225.4h0M1618.1 225.4h0M1624.5 225.5h0M1635.1 222.6h0M1643.4 222.5h0M1648.8 223.4h0M1656.9 223.6h0M1667.6 224.3h0M1674.8 223.2h0M1683.1 224.8h0M1606.7 232.2h0M1615.3 230h0M1620.3 231h0M1631.3 229.8h0M1638.4 231.7h0M1647.2 228.4h0M1654 228.5h0M1660.4 231.6h0M1669.7 230.8h0M1677.8 229.7h0M1684.9 229.8h0M1603.4 237.7h0M1609.2 235.6h0M1617.1 238h0M1641.8 237.8h0M1651.2 235.7h0M1658.7 235.4h0M1667.3 235.9h0M1673.1 239h0M1681.4 236.1h0M1602 207h0M1599.7 211h0M1594 214h0M1640 212h0M1647.7 210.5h0M1652 210h0M1658 213.3h0M1664 214.8h0M1670 214h0M1673.6 217.5h0M1680 218h0M1683.5 221.1h0M1690 224h0M1692 230h0M1687.8 233.6h0M1688 240h0M1685.3 237.8h0M1680 234.9h0M1674 234h0M1643.7 209.2h0M1677.6 215.6h0M1654 240h0M1596 240h0M1406 248h0M1402 249.4h0M1398 252h0M1434 246h0M1542 246h0M1549.4 244.1h0M1554.1 246.8h0M1558 246h0M1490 248h0M1488.3 251.8h0M1486 256h0M1508 268h0M1572 216h0M1160 236h0M1174 236h0M1150 234h0M1306 224h0M1318 226h0M1296 228h0M1314 208h0M1302 210h0M1290 210h0M1338 208h0M1348 210h0M1278 210h0M1352.6 202.9h0M1363.1 205.3h0M1370.9 205.8h0M1379.2 203.2h0M1385.3 204.9h0M1348.2 211.2h0M1356.4 209h0M1366.1 209.4h0M1375.7 212.3h0M1381.8 209.6h0M1388.5 210.8h0M1354.1 217.1h0M1362.9 217.7h0M1371.1 216h0M1376.3 217.1h0M1385.9 216.6h0M1350.7 223.3h0M1357.3 224.3h0M1366.8 225.5h0M1373.5 224.2h0M1383.7 226.1h0M1390.5 222.8h0M1361.8 231.7h0M1369.1 229.3h0M1379.9 232.8h0M1384.5 231.1h0M1175.3 193h0M1175.3 202.9h0M1183.5 206.2h0M1195.1 207.9h0M1203.4 204.6h0M1139 247.5h0M1145.6 250.8h0M1178.6 245.9h0M1185.2 249.2h0M1231.4 250.8h0M1191.8 198h0M1205 196.3h0M1261.1 264.8h0M1269.4 263.1h0M1228.1 253.2h0M1231.4 246.6h0M1344.8 254.5h0M1353 259.4h0M1405.9 249.5h0M1412.5 251.2h0M1435.6 246.2h0M1488.4 252.8h0M1491.7 257.8h0M1547.8 246.2h0M1557.7 247.9h0M1504.9 269.3h0M1329.9 244.6h0M1369.5 246.2h0" stroke="#008787" stroke-width="13.6" stroke-linecap="round" fill="none"/>
<path d="M1056 200h0M1052 204h0M1064 206h0M1040 219h0M1043.4 217.4h0M1048 220h0M1052.4 217.7h0M1056 218h0M1061.1 219.9h0M1068 220h0M1066.7 225.7h0M1066 228h0M1065.5 233.6h0M1064 236h0M1065.3 242.8h0M1066 246h0M1043.3 214.2h0M1058.3 222.8h0M1063.9 226.4h0M1068.7 241.1h0M1076 234h0M1078.6 232.8h0M1084 232h0M1090.5 229.9h0M1094 227h0M1095.8 228.4h0M1101 234h0M1102.8 236.8h0M1108 237h0M1073.1 233h0M1093 227.3h0M1101.2 239.2h0M1120 230h0M1125.6 229.3h0M1128 226h0M1134 222h0M1134 224.6h0M1138 230h0M1143.4 234.8h0M1146 238h0M1129.8 223.3h0M1136.6 232.6h0M1124 240h0M1110 249h0M1112 249h0M1118 252h0M1124 248h0M1116 260h0M1118 266h0M1150 248h0M1154.4 247.8h0M1160 252h0M1165.3 249.3h0M1170 248h0M1145.7 249.1h0M1156.7 250.9h0M1158 260h0M1155 265.3h0M1154 270h0M1172 258h0M1174.1 264h0M1176 266h0M1188 252h0M1182 272h0M1188.2 269h0M1190 270h0M1190 210h0M1195.3 213.2h0M1200 214h0M1204.1 218.2h0M1205 220h0M1186 220h0M1202 228h0M1200 234h0M1196 236h0M1214 244h0M1216.1 251.7h0M1220 257h0M1142 276h0M1138.1 278h0M1132 280h0M1129.6 282.3h0M1126 286h0M1130.4 282.7h0M1170 276h0M1174.7 276.2h0M1179.5 278h0M1186 280h0M1210 270h0M1205.4 270.8h0M1204 276h0M1222 274h0M1220.6 276.8h0M1216 280h0M1232 280h0M1236.8 280.3h0M1242 280h0M1240.1 273.5h0M1240 270h0M1239.1 264.1h0M1242 260h0M1242.2 257h0M1244 252h0M1247.2 250.9h0M1250 246h0M1256 244h0M1259.3 247.9h0M1264 248h0M1269.4 244.2h0M1274 244h0M1228.1 277.8h0M1234.8 264.5h0M1245.6 254.6h0M1278 226h0M1277.2 231h0M1279 234h0M1288 252h0M1294 252.4h0M1296 252h0M1286 260h0M1300 260h0M1302.1 265.4h0M1308 268h0M1313.7 269.3h0M1316 272h0M1318.4 273.6h0M1324 278h0M1326.2 275.7h0M1328 270h0M1328.6 266.9h0M1328 260h0M1325.7 255.2h0M1326 252h0M1326.1 248.7h0M1324 244h0M1311.4 270.6h0M1331.2 258.4h0M1323 249.4h0M1325.5 246.3h0M1330 250h0M1336.2 253.2h0M1340 260h0M1346.4 263.7h0M1350 268h0M1354.2 272.4h0M1358 276h0M1362.2 273.7h0M1366 270h0M1366 252h0M1372.1 251.8h0M1374 252h0M1377 255.1h0M1382 258h0M1386.9 259.4h0M1388 264h0M1387.8 267.9h0M1392 272h0M1390.7 264.5h0M1384.2 267.9h0M1395 270.8h0M1286 282h0M1370 280h0M1128 290h0M1128 295h0M1128 290h0M1129.5 284.1h0M1134 281h0M1139 280.9h0M1142 277h0M1144.5 278.4h0M1150 284h0M1152 291h0M1157.2 292.4h0M1160 296h0M1165.1 299.5h0M1166 303h0M1149.7 281.4h0M1162.1 298.2h0M1158 286h0M1159.3 281.2h0M1155.5 274.2h0M1156 270h0M1166 280h0M1170 278.7h0M1176 278h0M1179.8 276.7h0M1186 278h0M1192.1 279.6h0M1196 280h0M1198.1 286.2h0M1202 288h0M1201.8 292.3h0M1204 296h0M1205 303h0M1168.8 276.8h0M1200.5 284.6h0M1214 288h0M1215.7 293.7h0M1220 296h0M1223.4 301.2h0M1228 304h0M1231.6 306.1h0M1232 311h0M1236.6 310.7h0M1238 306h0M1239.1 299.9h0M1242 298h0M1244.3 300.1h0M1250 298h0M1248.8 304.8h0M1252 308h0M1253.5 314h0M1258 318h0M1260.2 312.5h0M1266 310h0M1269.8 304.2h0M1272 302h0M1278 298h0M1280.3 295.8h0M1284 290h0M1286 287.7h0M1286 282h0M1292.1 282.9h0M1294 288h0M1297.8 292.3h0M1304 294h0M1307.8 296h0M1310 302h0M1311 306.8h0M1312 314h0M1313.2 316.8h0M1315 323h0M1217.1 287.8h0M1217.2 296.2h0M1226.9 301.4h0M1234.5 313.5h0M1253.2 316.7h0M1254.7 317.8h0M1268.4 300.7h0M1314.5 314h0M1322 302h0M1324.9 305.5h0M1330 308h0M1332.5 309.9h0M1336 314h0M1338.7 311.3h0M1344 312h0M1349.5 314.2h0M1352 314h0M1356.8 307h0M1358 304h0M1361.9 298.7h0M1364 295h0M1368.6 296.7h0M1372 298h0M1375.2 304.1h0M1380 306h0M1382.8 310.1h0M1390 312h0M1318 276h0M1323.8 280.9h0M1326 286h0M1330 280h0M1210 270h0M1213.4 274.9h0M1220 276h0M1225.1 278.1h0M1230 280h0M1235.1 283.4h0M1240 284h0M1214.9 271.8h0M1236.9 286.8h0M1216 284h0M1510 239h0M1512.1 246.2h0M1512 250h0M1519 251.6h0M1524 251h0M1527 253.7h0M1534 258h0M1538.4 263h0M1546 264h0M1509 244.3h0M1508.9 252.5h0M1504 260h0M1500.1 262.7h0M1492 264h0M1488.3 266.8h0M1482 268h0M1476.5 272h0M1472 272h0M1467.9 270.8h0M1462 268h0M1459 271.5h0M1458 278h0M1477.8 267.6h0M1476.3 269.2h0M1467 274h0M1456.4 282.1h0M1444 268h0M1440.7 272.2h0M1440 278h0M1436.7 279.3h0M1434 284h0M1406 272h0M1398.7 273.8h0M1394 272h0M1414 280h0M1480 284h0M1592 227h0M1587.8 230.5h0M1584 231h0M1616 245h0M1568 256h0M1573.6 255.2h0M1578 252h0M1581.2 248.5h0M1586 248h0M1574 262h0M1579 260.4h0M1586 260h0M1593.8 260.1h0M1598 260h0M1598.1 265.6h0M1600 270h0M1587.7 256.8h0M1562 268h0M1556.1 274.2h0M1554 280h0M1516 272h0M1522.1 276.8h0M1526 280h0M1531.6 283.4h0M1538 284h0M1514.7 275.5h0M1580 280h0M1586.5 282.9h0M1594 282h0M1600.4 280.6h0M1604.2 282h0M1610 280h0M1616.3 277.6h0M1624 278h0M1631.6 278.1h0M1636.1 278.7h0M1642 278h0M1585.1 285.2h0M1638 252h0M1636.3 256.5h0M1632 258h0M1636 264h0M1639.8 263.4h0M1647.8 261.3h0M1652 260h0M1657.8 264.8h0M1660 266h0M1638.7 259.7h0M1654.4 262.2h0M1668 252h0M1671.7 249.8h0M1678 250h0M1674.2 255.8h0M1674 260h0M1683.1 263.3h0M1688 264h0M1692 266.9h0M1695.5 269.5h0M1702 270h0M1705.2 264.5h0M1710.6 261.7h0M1714 260h0M1712.3 252.1h0M1712.4 248.2h0M1712 242h0M1716.4 237h0M1718 236h0M1722.4 239.3h0M1724 246h0M1724.8 251.2h0M1727.3 254.6h0M1730 260h0M1737.3 257.8h0M1744 258h0M1750.3 251.7h0M1754 248h0M1674.7 253.3h0M1685.3 261.1h0M1719.7 239.7h0M1741.5 259.8h0M1750 248.2h0M1734 272h0M1738 274.2h0M1743.3 273.6h0M1750 276h0M1718 278h0M1684 278h0M1664 280h0M1398 274h0M1404.3 275.9h0M1410 276h0M1415.1 281.1h0M1416 284h0M1421 289.8h0M1422 292h0M1422 298h0M1420 302h0M1417.1 305.7h0M1418 312h0M1413.9 317.6h0M1414 320h0M1411 322.6h0M1406 324h0M1401 321.4h0M1398 320h0M1395.9 314.6h0M1398.8 307.1h0M1396 302h0M1399.5 276.9h0M1418.2 285.7h0M1416.8 322.3h0M1401.3 317.9h0M1428 300h0M1434 298.5h0M1438 298h0M1444.4 300.5h0M1448 300h0M1445.4 302.9h0M1446 310h0M1448.7 309.4h0M1454 308h0M1458.5 308.8h0M1464 314h0M1465.5 310.3h0M1464 304h0M1466.8 298h0M1470 296h0M1475.7 292.2h0M1478 288h0M1478.1 293.2h0M1482 300h0M1486.5 302.7h0M1490 302h0M1493.9 304.6h0M1498 306h0M1494 312h0M1499.7 311.9h0M1508 314h0M1512.8 308.5h0M1514 304h0M1517.3 305.4h0M1524 306h0M1525.4 300.7h0M1530 298h0M1531.8 293.4h0M1534 288h0M1532.6 284.9h0M1530 280h0M1525.7 275.1h0M1522 274h0M1430.8 299.1h0M1457.1 306h0M1458.8 313.3h0M1481.7 290.5h0M1484.8 300.9h0M1516.8 308.9h0M1517.9 303.3h0M1518.2 302.8h0M1526.3 296.5h0M1534 290.5h0M1544 298h0M1544.1 300h0M1548 306h0M1554.2 301.1h0M1560 298h0M1564.5 299.8h0M1570 306h0M1574 300h0M1546.1 296.4h0M1552.5 298.7h0M1568.1 299.3h0M1573.5 295.8h0M1552 282h0M1557.5 276.9h0M1559.4 274.5h0M1564 272h0M1563.8 276.5h0M1561.8 286.1h0M1560 290h0M1560 278.2h0M1586 290h0M1591.5 294.7h0M1596 298h0M1602.8 296h0M1606 292h0M1613.3 294.8h0M1618 294h0M1625.5 295h0M1630 294h0M1633.9 294.8h0M1642 294h0M1648.5 293.7h0M1652 294h0M1652.7 287.6h0M1650 284h0M1621.3 296.5h0M1674 290h0M1665.9 287.6h0M1660 286h0M1684 284h0M1686.9 282.8h0M1694 284h0M1700.7 283.9h0M1704 280h0M1722 282h0M1727.1 277.3h0M1732 276h0M1748 278h0M1753.4 275.2h0M1756 274h0M1444 270h0M1450.6 268.7h0M1456.2 270.7h0M1462 268h0M1466.5 271.1h0M1474 274h0M1454 280h0M1462.7 278.9h0M1466.1 280.4h0M1474 282h0M1444 286h0M1451.1 285.2h0M1453.6 289.6h0M1460 290h0M1760 246h0M1765.9 246.1h0M1770 248h0M1771.1 250.1h0M1776 256h0M1778.9 258.4h0M1786 262h0M1789.4 262.3h0M1796 266h0M1781.4 260.2h0M1800 250h0M1766 260h0M1762 263.2h0M1756 270h0M1761.9 272.6h0M1765.5 274.6h0M1768 280h0M1775.4 276.8h0M1780 276h0M1787.6 280.3h0M1792 282h0M1796.8 285h0M1800 290h0M1767.6 264h0M1760 260.1h0M1763.6 274.8h0M1796.2 282.4h0M1799.9 284.3h0M1800 274h0M1718 236h0M1712.4 242.3h0M1710 246h0M1714.9 247.4h0M1722 250h0M1718.1 252.3h0M1714 258h0M1718.9 262.3h0M1726 264h0M1720.1 268.5h0M1716 274h0M1721.2 276.8h0M1724 282h0M1718.6 239.2h0M1715.9 248.7h0M1716.4 263.3h0M1718.6 276.3h0M1721.6 280.1h0M1726.9 283.3h0M1740 258h0M1743.9 262.9h0M1748 264h0M1746.2 269.1h0M1744 278h0M1754 250h0M1399.4 279.2h0M1407.8 280.9h0M1413 279.5h0M1395.5 286.4h0M1400.3 286.7h0M1411.7 287.4h0M1418.9 285.9h0M1441.8 276.1h0M1448.8 277.5h0M1457.4 275.3h0M1467.9 276.7h0M1472.7 274.8h0M1438.6 283.7h0M1444.1 283.5h0M1455 283.7h0M1460.9 283.6h0M1470.4 284.2h0M1476.6 284.8h0M1435.8 291.4h0M1443.4 289.9h0M1451.6 289.1h0M1456.9 290.8h0M1467.6 288.7h0M1472.9 288.5h0M1481.8 289h0M1436.8 298.2h0M1446.3 299h0M1453.6 297.9h0M1460.1 299h0M1468.9 297.1h0M1478 299h0M1450 306h0M1458.5 302.9h0M1467.3 302.8h0M1528 294.6h0M1532.9 296.6h0M1565.3 294.4h0M1573.4 295.5h0M1568.1 251.5h0M1576.6 253.3h0M1584 252.4h0M1565 258.6h0M1574.2 259.6h0M1580.6 257.8h0M1588.5 260.6h0M1596.6 257.3h0M1570.1 265.9h0M1579.5 263.8h0M1584.9 264.3h0M1594.3 265.4h0M1601.6 267.2h0M1574.6 273.8h0M1583.8 271.5h0M1591.8 272h0M1596.2 274.1h0M1576.4 277.3h0M1585.2 278.4h0M1595.9 280.7h0M1601.7 279.3h0M1591.4 287.2h0M1598.6 286.1h0M1680.5 265.8h0M1690.6 267.1h0M1699.2 268.4h0M1707.8 265.6h0M1712.3 268.4h0M1722.3 265.5h0M1730.8 265.8h0M1736.9 266.3h0M1746.1 267.5h0M1752.3 267.8h0M1638.5 273.5h0M1646.7 274.8h0M1652 273.5h0M1662.7 274.4h0M1670.6 272.3h0M1679.8 274.7h0M1684.9 273.3h0M1695.8 272.4h0M1701.6 275.4h0M1711.6 272.5h0M1718.9 273h0M1726.7 274.7h0M1732.5 272.5h0M1740.9 272.7h0M1748.1 272.1h0M1609.6 280.1h0M1616.3 280.7h0M1627.8 280.7h0M1633.4 281.2h0M1641.7 279.1h0M1649.9 278.5h0M1658.7 279h0M1665.5 282.2h0M1675.1 281.7h0M1682.6 280.9h0M1690.8 282.3h0M1696.8 281.5h0M1705.2 279.4h0M1715.3 280.8h0M1723.4 281.9h0M1730.4 279.2h0M1736.1 280.5h0M1606.9 286.3h0M1612.3 285.2h0M1620.7 288h0M1628 286.1h0M1637.1 288h0M1647.9 285.3h0M1652.5 288.9h0M1663.9 285.8h0M1709.3 251.1h0M1717.3 250.7h0M1725.9 250h0M1732.2 249.3h0M1740.6 249.4h0M1750.5 251.8h0M1713.1 259h0M1722.9 257.2h0M1730 256.6h0M1739.7 258h0M1744.2 256.4h0M1754.8 257.3h0M1710.9 263.5h0M1719.2 265.8h0M1724.4 264.9h0M1732.8 265.4h0M1743.2 265.8h0M1748.9 263h0M1714.7 271.7h0M1720.6 270.2h0M1730.3 269.8h0M1738.5 270.4h0M1745 271.1h0M1754.1 272.3h0M1708.1 279.1h0M1716.9 277.4h0M1726.6 279h0M1734.5 279.8h0M1740.8 277.4h0M1750.7 277.2h0M1130 234h0M1138 240h0M1120 240h0M1130 228h0M1054.8 209.5h0M1063 214.5h0M1049.8 217.8h0M1059.7 222.7h0M1066.3 231h0M1072.9 232.6h0M1170.3 252.5h0M1175.3 259.1h0M1178.6 273h0M1188.5 266.4h0M1211.6 269.7h0M1221.5 278h0M1233.1 284.6h0M1211.6 282.9h0M1203.4 292.8h0M1239.7 294.5h0M1249.6 294.5h0M1257.8 302.7h0M1267.7 306h0M1251.2 312.6h0M1261.1 314.3h0M1195.1 278h0M1201.7 264.8h0" stroke="#0000a8" stroke-width="13.6" stroke-linecap="round" fill="none"/>
<path d="M1105.6 241.8H1700.4" stroke="#ff00ff" stroke-width="3.3" fill="none"/>
</g>
<rect x="1036.50" y="13.10" width="766.00" height="621.75" fill="none" stroke="#000" stroke-width="2"/>
<path d="M1036.50 634.85v11.2M1132.25 634.85v5.6M1132.25 13.10v5.6M1228.00 634.85v11.2M1228.00 13.10v11.2M1323.75 634.85v5.6M1323.75 13.10v5.6M1419.50 634.85v11.2M1419.50 13.10v11.2M1515.25 634.85v5.6M1515.25 13.10v5.6M1611.00 634.85v11.2M1611.00 13.10v11.2M1706.75 634.85v5.6M1706.75 13.10v5.6M1802.50 634.85v11.2M1036.50 13.10h-11.2M1036.50 116.72h-5.6M1802.50 116.72h-5.6M1036.50 220.35h-11.2M1802.50 220.35h-11.2M1036.50 323.98h-5.6M1802.50 323.98h-5.6M1036.50 427.60h-11.2M1802.50 427.60h-11.2M1036.50 531.23h-5.6M1802.50 531.23h-5.6M1036.50 634.85h-11.2" stroke="#000" stroke-width="2" fill="none"/>
<text x="1037.0" y="673.0" text-anchor="middle" class="tk">0.0</text>
<text x="1228.5" y="673.0" text-anchor="middle" class="tk">0.5</text>
<text x="1420.0" y="673.0" text-anchor="middle" class="tk">1.0</text>
<text x="1611.5" y="673.0" text-anchor="middle" class="tk">1.5</text>
<text x="1803.0" y="673.0" text-anchor="middle" class="tk">2.0</text>
<text x="1017.2" y="20.5" text-anchor="end" class="tk">0.5</text>
<text x="1017.2" y="227.8" text-anchor="end" class="tk">0.0</text>
<text x="1017.2" y="435.0" text-anchor="end" class="tk">-0.5</text>
<text x="1017.2" y="642.2" text-anchor="end" class="tk">-1.0</text>
<text x="1274.4" y="75.7" class="ttl">(b) 22BB MPL side</text>
<circle cx="1733.4" cy="44.6" r="7.3" fill="#008000"/>
<text x="1760.6" y="51.9" class="lg" style="fill:#008000">1</text>
<circle cx="1733.4" cy="69.5" r="7.3" fill="#008787"/>
<text x="1760.6" y="76.8" class="lg" style="fill:#008b8b">2</text>
<circle cx="1733.4" cy="95.0" r="7.3" fill="#0000a8"/>
<text x="1760.6" y="102.3" class="lg" style="fill:#0000a8">3</text>
<g transform="translate(1303.8 722.3)"><text class="eps" transform="translate(-0.6 0) scale(1.16 1)">ε</text><text class="sub" x="12.8" y="6.8">y</text><text class="al" x="39.6" y="0">(10</text><text class="sup" x="83.8" y="-12.9">-3</text><text class="al" x="113.8" y="0">mm/mm)</text></g>
<g transform="translate(956.6 435) rotate(-90)"><text class="eps" transform="translate(-0.6 0) scale(1.16 1)">ε</text><text class="sub" x="12.8" y="6.8">x</text><text class="al" x="31.3" y="0">(10</text><text class="sup" x="75.5" y="-12.9">-3</text><text class="al" x="105.5" y="0">mm/mm)</text></g>
</svg></body></html>
